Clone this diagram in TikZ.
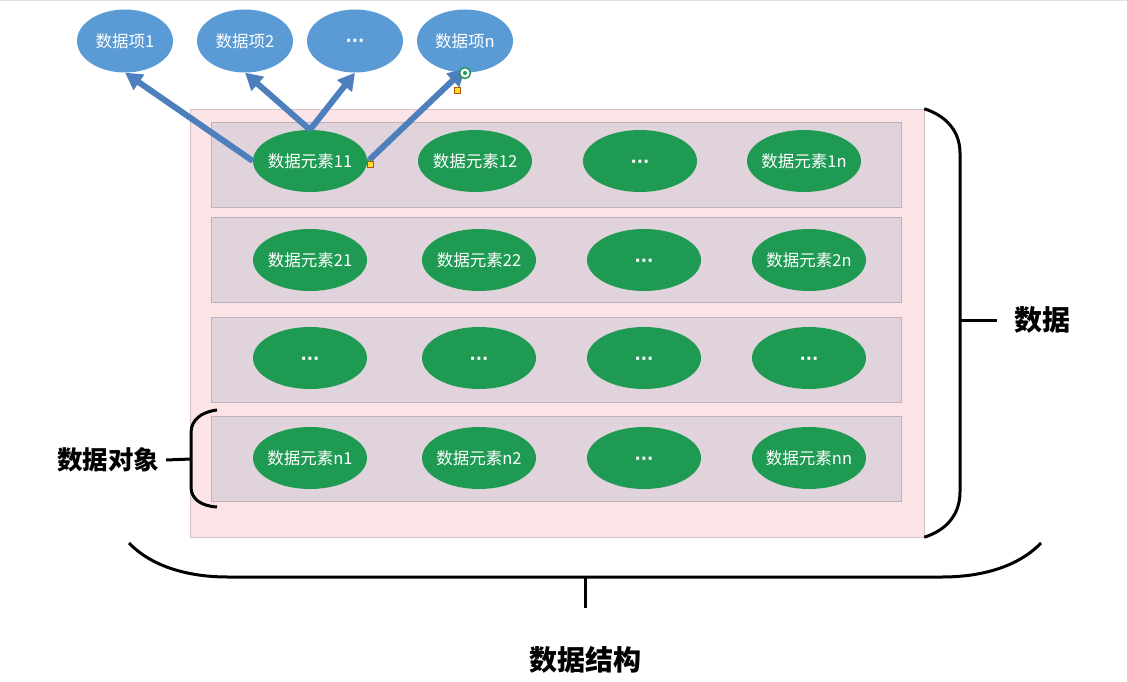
\documentclass[tikz,border=0pt]{standalone}
\usepackage{fontspec}
\usetikzlibrary{arrows.meta,shapes.geometric}
\newfontfamily\cjk{Noto Sans CJK SC}
\newfontfamily\dotfont{DejaVu Sans}
\newcommand{\moredots}{\raisebox{-6pt}[0pt][0pt]{\dotfont\bfseries ···}}
\definecolor{itemblue}{HTML}{5B9BD5}
\definecolor{elemgreen}{HTML}{1F9A53}
\definecolor{arrowblue}{HTML}{4E7FBD}
\definecolor{pinkbg}{HTML}{FCE4E6}
\definecolor{rowbg}{HTML}{E0D3DC}
\tikzset{item/.style={ellipse,fill=itemblue,minimum width=96pt,minimum height=63pt,inner sep=0pt,
 label={[text=white,font=\cjk\fontsize{16.5}{19}\selectfont]center:#1}},
 elem/.style={ellipse,fill=elemgreen,minimum width=114pt,minimum height=62pt,inner sep=0pt,
 label={[text=white,font=\cjk\fontsize{16.5}{19}\selectfont]center:#1}},
 rowbox/.style={draw=rowbg!85!black,line width=0.6pt,fill=rowbg,minimum width=690pt,minimum height=85pt,inner sep=0pt},
 arr/.style={-{Triangle[length=17pt,width=18pt]},line width=6pt,draw=arrowblue},
 brace/.style={line width=3pt,draw=black},
 bigtext/.style={font=\cjk\bfseries\fontsize{28}{34}\selectfont,inner sep=0pt},
 handle/.style={fill=yellow!70!orange!80,draw=orange!70!black,line width=0.5pt,minimum size=6pt,inner sep=0pt}}
\begin{document}
\begin{tikzpicture}[x=1pt,y=-1pt]
\useasboundingbox (0,0) rectangle (1127,682);
\draw[gray!25] (0,0.5)--(1127,0.5);
% background
\node[fill=pinkbg,draw=pinkbg!85!black,line width=0.5pt,minimum width=734pt,minimum height=428pt,inner sep=0pt] (data) at (557,323) {};
\node[rowbox] (row1) at (556,164.5) {};
\node[rowbox] (row2) at (556,260) {};
\node[rowbox] (row3) at (556,359.5) {};
\node[rowbox] (row4) at (556,458.5) {};
% data items
\node[item=数据项1] (item1) at (125,41) {};
\node[item=数据项2] (item2) at (245,41) {};
\node[item=\moredots] (itemdots) at (355,41) {};
\node[item=数据项n] (itemn) at (465,41) {};
% data elements
\node[elem=数据元素11] (e11) at (310,161) {};
\node[elem=数据元素12] (e12) at (475,161) {};
\node[elem=\moredots] (e13) at (640,161) {};
\node[elem=数据元素1n] (e14) at (804,161) {};
\node[elem=数据元素21] (e21) at (310,260) {};
\node[elem=数据元素22] (e22) at (479,260) {};
\node[elem=\moredots] (e23) at (644,260) {};
\node[elem=数据元素2n] (e24) at (809,260) {};
\node[elem=\moredots] (e31) at (310,358) {};
\node[elem=\moredots] (e32) at (479,358) {};
\node[elem=\moredots] (e33) at (644,358) {};
\node[elem=\moredots] (e34) at (809,358) {};
\node[elem=数据元素n1] (e41) at (310,458) {};
\node[elem=数据元素n2] (e42) at (479,458) {};
\node[elem=\moredots] (e43) at (644,458) {};
\node[elem=数据元素nn] (e44) at (809,458) {};
% arrows
\draw[arr] (e11.west)--(item1.south);
\draw[arr] (e11.north)--(item2.south);
\draw[arr] (e11.north)--(itemdots.south);
\draw[arr] ([xshift=2pt,yshift=1pt]e11.east)--([yshift=4pt]itemn.south);
% selection handles
\node[circle,fill=elemgreen,minimum size=7pt,inner sep=0pt] at (366,162) {};
\node[handle] at (370,164) {};
\node[handle] at (457,90) {};
\node[circle,draw=elemgreen,line width=1.5pt,fill=white,minimum size=11pt,inner sep=0pt] (sel) at (465,73) {};
\node[circle,fill=elemgreen,minimum size=4pt,inner sep=0pt] at (sel) {};
% braces
\draw[brace] (data.north east) .. controls (947,116) and (960,132) .. (960,153) -- (960,492)
 .. controls (960,514) and (947,530) .. (data.south east);
\coordinate (rmid) at (960,320);
\node[bigtext] (datalabel) at (1042,320) {数据};
\draw[brace] (rmid)--([xshift=-17pt]datalabel.west);
\draw[brace] (217,410) .. controls (201,412) and (191,420) .. (191,433) -- (191,487)
 .. controls (191,499) and (201,506) .. (217,507);
\coordinate (lmid) at (191,459);
\node[bigtext,font=\cjk\bfseries\fontsize{25.5}{30}\selectfont] (objlabel) at (108,460) {数据对象};
\draw[brace] ([xshift=7pt]objlabel.east)--(lmid);
\draw[brace] (129,543) .. controls (150,565) and (185,577) .. (228,577) -- (942,577)
 .. controls (985,577) and (1020,565) .. (1041,543);
\coordinate (bmid) at (585,577);
\coordinate (btick) at (585,608);
\draw[brace] (bmid)--(btick);
\node[bigtext] (structlabel) at (585,660) {数据结构};
\end{tikzpicture}
\end{document}
